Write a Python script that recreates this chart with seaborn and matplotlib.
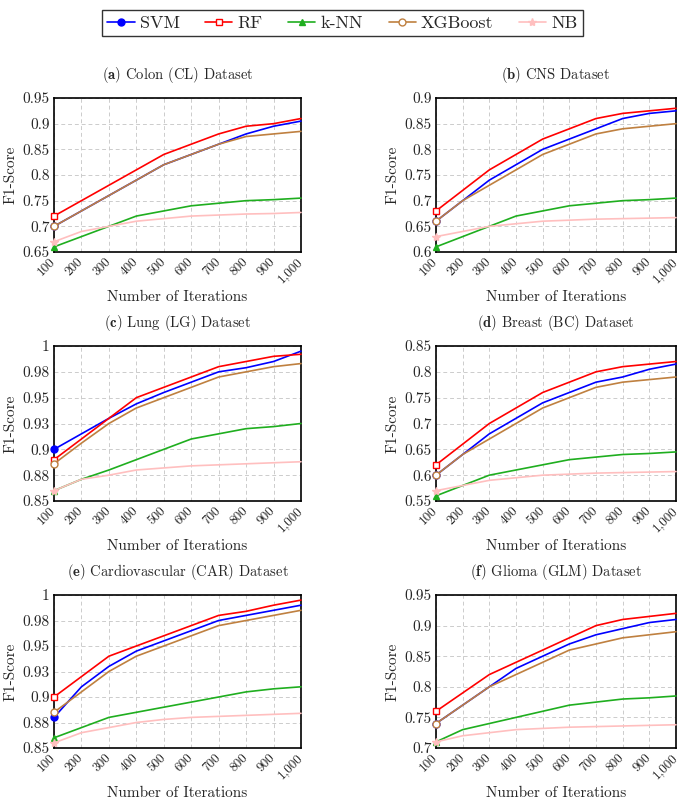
import matplotlib
matplotlib.use("Agg")
import matplotlib.pyplot as plt
import matplotlib.ticker as mticker
from matplotlib.lines import Line2D
import seaborn as sns
import pandas as pd

iterations = [100, 200, 300, 400, 500, 600, 700, 800, 900, 1000]
models = ["SVM", "RF", "k-NN", "XGBoost", "NB"]

# (a) Colon
colon_svm = [0.70, 0.73, 0.76, 0.79, 0.82, 0.84, 0.86, 0.88, 0.895, 0.905]
colon_rf = [0.72, 0.75, 0.78, 0.81, 0.84, 0.86, 0.88, 0.895, 0.90, 0.91]
colon_knn = [0.66, 0.68, 0.70, 0.72, 0.73, 0.74, 0.745, 0.75, 0.752, 0.755]
colon_xgb = [0.70, 0.73, 0.76, 0.79, 0.82, 0.84, 0.86, 0.875, 0.88, 0.885]
colon_nb = [0.67, 0.69, 0.70, 0.71, 0.715, 0.72, 0.722, 0.724, 0.725, 0.727]

# (b) CNS
cns_svm = [0.66, 0.70, 0.74, 0.77, 0.80, 0.82, 0.84, 0.86, 0.87, 0.875]
cns_rf = [0.68, 0.72, 0.76, 0.79, 0.82, 0.84, 0.86, 0.87, 0.875, 0.88]
cns_knn = [0.61, 0.63, 0.65, 0.67, 0.68, 0.69, 0.695, 0.70, 0.702, 0.705]
cns_xgb = [0.66, 0.70, 0.73, 0.76, 0.79, 0.81, 0.83, 0.84, 0.845, 0.85]
cns_nb = [0.63, 0.64, 0.65, 0.655, 0.66, 0.662, 0.664, 0.665, 0.666, 0.667]

# (c) Lung
lung_svm = [0.90, 0.915, 0.93, 0.944, 0.955, 0.965, 0.975, 0.979, 0.985, 0.995]
lung_rf = [0.89, 0.91, 0.93, 0.95, 0.96, 0.97, 0.98, 0.985, 0.99, 0.992]
lung_knn = [0.86, 0.871, 0.88, 0.89, 0.90, 0.91, 0.915, 0.92, 0.922, 0.925]
lung_xgb = [0.886, 0.906, 0.925, 0.94, 0.95, 0.96, 0.97, 0.975, 0.98, 0.983]
lung_nb = [0.86, 0.871, 0.875, 0.88, 0.882, 0.884, 0.885, 0.886, 0.887, 0.888]

# (d) Breast
breast_svm = [0.60, 0.64, 0.68, 0.71, 0.74, 0.76, 0.78, 0.79, 0.805, 0.815]
breast_rf = [0.62, 0.66, 0.70, 0.73, 0.76, 0.78, 0.80, 0.81, 0.815, 0.82]
breast_knn = [0.56, 0.58, 0.60, 0.61, 0.62, 0.63, 0.635, 0.64, 0.642, 0.645]
breast_xgb = [0.60, 0.64, 0.67, 0.70, 0.73, 0.75, 0.77, 0.78, 0.785, 0.79]
breast_nb = [0.57, 0.58, 0.59, 0.595, 0.60, 0.602, 0.604, 0.605, 0.606, 0.607]

# (e) Cardiovascular
car_svm = [0.88, 0.91, 0.93, 0.945, 0.955, 0.965, 0.975, 0.98, 0.985, 0.99]
car_rf = [0.90, 0.92, 0.94, 0.95, 0.96, 0.97, 0.98, 0.984, 0.99, 0.995]
car_knn = [0.86, 0.87, 0.88, 0.885, 0.89, 0.895, 0.90, 0.905, 0.908, 0.91]
car_xgb = [0.885, 0.905, 0.925, 0.94, 0.95, 0.96, 0.97, 0.975, 0.98, 0.985]
car_nb = [0.855, 0.865, 0.87, 0.875, 0.878, 0.88, 0.881, 0.882, 0.883, 0.884]

# (f) Glioma
glm_svm = [0.74, 0.77, 0.80, 0.83, 0.85, 0.87, 0.885, 0.895, 0.905, 0.91]
glm_rf = [0.76, 0.79, 0.82, 0.84, 0.86, 0.88, 0.90, 0.91, 0.915, 0.92]
glm_knn = [0.71, 0.73, 0.74, 0.75, 0.76, 0.77, 0.775, 0.78, 0.782, 0.785]
glm_xgb = [0.74, 0.77, 0.80, 0.82, 0.84, 0.86, 0.87, 0.88, 0.885, 0.89]
glm_nb = [0.71, 0.72, 0.725, 0.73, 0.732, 0.734, 0.735, 0.736, 0.737, 0.738]

titles = [r"$\mathbf{(a)}$ Colon (CL) Dataset", r"$\mathbf{(b)}$ CNS Dataset",
          r"$\mathbf{(c)}$ Lung (LG) Dataset", r"$\mathbf{(d)}$ Breast (BC) Dataset",
          r"$\mathbf{(e)}$ Cardiovascular (CAR) Dataset", r"$\mathbf{(f)}$ Glioma (GLM) Dataset"]
panel_data = [
    [colon_svm, colon_rf, colon_knn, colon_xgb, colon_nb],
    [cns_svm, cns_rf, cns_knn, cns_xgb, cns_nb],
    [lung_svm, lung_rf, lung_knn, lung_xgb, lung_nb],
    [breast_svm, breast_rf, breast_knn, breast_xgb, breast_nb],
    [car_svm, car_rf, car_knn, car_xgb, car_nb],
    [glm_svm, glm_rf, glm_knn, glm_xgb, glm_nb],
]
y_ranges = [(0.65, 0.95), (0.6, 0.9), (0.85, 1.0), (0.55, 0.85), (0.85, 1.0), (0.7, 0.95)]
y_ticks = [
    [0.65, 0.70, 0.75, 0.80, 0.85, 0.90, 0.95],
    [0.60, 0.65, 0.70, 0.75, 0.80, 0.85, 0.90],
    [0.85, 0.875, 0.90, 0.925, 0.95, 0.975, 1.0],
    [0.55, 0.60, 0.65, 0.70, 0.75, 0.80, 0.85],
    [0.85, 0.875, 0.90, 0.925, 0.95, 0.975, 1.0],
    [0.70, 0.75, 0.80, 0.85, 0.90, 0.95],
]
y_ticklabels = [
    ["0.65", "0.7", "0.75", "0.8", "0.85", "0.9", "0.95"],
    ["0.6", "0.65", "0.7", "0.75", "0.8", "0.85", "0.9"],
    ["0.85", "0.88", "0.9", "0.93", "0.95", "0.98", "1"],
    ["0.55", "0.6", "0.65", "0.7", "0.75", "0.8", "0.85"],
    ["0.85", "0.88", "0.9", "0.93", "0.95", "0.98", "1"],
    ["0.7", "0.75", "0.8", "0.85", "0.9", "0.95"],
]
x_ticklabels = ["100", "200", "300", "400", "500", "600", "700", "800", "900", "1,000"]

colors = {"SVM": "#0000ff", "RF": "#ff0000", "k-NN": "#1fae1f", "XGBoost": "#bf8040", "NB": "#ffbfbf"}
markers = {"SVM": "o", "RF": "s", "k-NN": "^", "XGBoost": "o", "NB": "*"}
mfcs = {"SVM": "#0000ff", "RF": "white", "k-NN": "#1fae1f", "XGBoost": "white", "NB": "#ffbfbf"}
msizes = {"SVM": 5, "RF": 5, "k-NN": 5, "XGBoost": 5, "NB": 6}

sns.set_theme(style="white")
plt.rcParams["font.family"] = ["cmr10", "DejaVu Serif"]
plt.rcParams["mathtext.fontset"] = "cm"
plt.rcParams["axes.formatter.use_mathtext"] = True

fig = plt.figure(figsize=(6.85, 8.0), dpi=100)
W, H = 685.0, 800.0
lefts = [54, 436]
widths = [247, 240]
tops = [98, 346, 595]
heights = [154, 155, 153]

for i in range(6):
    r, c = divmod(i, 2)
    ax = fig.add_axes([lefts[c] / W, 1 - (tops[r] + heights[r]) / H, widths[c] / W, heights[r] / H])
    rows = []
    for m, vals in zip(models, panel_data[i]):
        for x, v in zip(iterations, vals):
            rows.append({"Iterations": x, "F1": v, "Model": m})
    df = pd.DataFrame(rows)
    for m in models:
        sub = df[df["Model"] == m]
        sns.lineplot(data=sub, x="Iterations", y="F1", ax=ax, color=colors[m],
                     linewidth=1.2, marker=markers[m], markevery=[0], markersize=msizes[m],
                     markerfacecolor=mfcs[m], markeredgecolor=colors[m], markeredgewidth=1.0,
                     legend=False, clip_on=False, zorder=3)
    ax.set_xlim(100, 1000)
    ax.set_ylim(*y_ranges[i])
    ax.xaxis.set_major_locator(mticker.FixedLocator(iterations))
    ax.set_xticklabels(x_ticklabels, rotation=45, ha="right", va="center",
                       rotation_mode="anchor", fontsize=9.5)
    ax.yaxis.set_major_locator(mticker.FixedLocator(y_ticks[i]))
    ax.set_yticklabels(y_ticklabels[i], fontsize=11)
    ax.grid(True, linestyle=(0, (4, 3)), color="#cccccc", linewidth=0.7)
    for s in ax.spines.values():
        s.set_edgecolor("black")
        s.set_linewidth(1.2)
    ax.tick_params(axis="both", direction="in", length=3, color="#888888", pad=3)
    ax.tick_params(axis="x", pad=6)
    ax.set_xlabel("Number of Iterations", fontsize=11, labelpad=3)
    ax.set_ylabel("F1-Score", fontsize=11, labelpad=4)
    ax.set_title(titles[i], fontsize=10.5, pad=14)

handles = [Line2D([0], [0], color=colors[m], linewidth=1.2, marker=markers[m], markersize=msizes[m],
                  markerfacecolor=mfcs[m], markeredgecolor=colors[m]) for m in models]
leg = fig.legend(handles, models, loc="upper center", bbox_to_anchor=(0.5, 0.999), ncol=5,
                 frameon=True, fontsize=13, handlelength=1.5, columnspacing=1.4,
                 borderpad=0.3, handletextpad=0.3, fancybox=False)
leg.get_frame().set_edgecolor("black")
leg.get_frame().set_linewidth(1.0)

fig.savefig("out.png", dpi=100)
